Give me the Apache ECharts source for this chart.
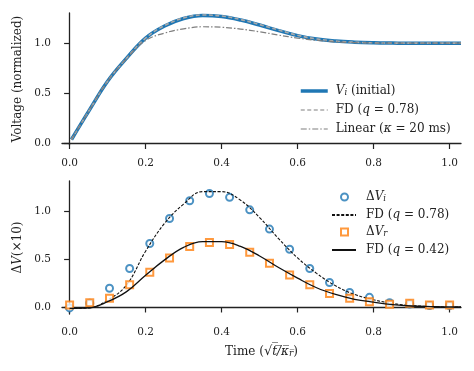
<!DOCTYPE html>
<html><head><meta charset="utf-8">
<script src="https://cdn.jsdelivr.net/npm/echarts@6/dist/echarts.min.js"></script>
<style>html,body{margin:0;padding:0;background:#fff}#c{width:474px;height:371px}</style>
</head><body><div id="c"></div>
<script>
// ---- data ----
const xTicks = [0, 0.2, 0.4, 0.6, 0.8, 1.0];
const yTicks = [0, 0.5, 1.0];

const tTop = [0.005, 0.05, 0.1, 0.15, 0.2, 0.25, 0.3, 0.35, 0.4, 0.45, 0.5, 0.55, 0.6, 0.65, 0.7, 0.75, 0.8, 0.85, 0.9, 0.95, 1.0, 1.03];
const viInitial = [0.04, 0.32, 0.62, 0.85, 1.05, 1.17, 1.245, 1.275, 1.265, 1.23, 1.18, 1.125, 1.075, 1.04, 1.02, 1.009, 1.003, 1.0, 0.998, 0.998, 0.998, 0.998];
const fdTop = [0.04, 0.32, 0.62, 0.85, 1.05, 1.175, 1.25, 1.28, 1.27, 1.235, 1.185, 1.13, 1.078, 1.042, 1.02, 1.009, 1.003, 1.0, 1.0, 1.0, 1.0, 1.0];
const linearTop = [0.04, 0.32, 0.62, 0.845, 1.026, 1.1, 1.142, 1.163, 1.158, 1.14, 1.113, 1.08, 1.05, 1.027, 1.012, 1.005, 1.001, 1.0, 1.0, 1.0, 1.0, 1.0];

const tPts = [0, 0.053, 0.105, 0.158, 0.211, 0.263, 0.316, 0.368, 0.421, 0.474, 0.526, 0.579, 0.632, 0.684, 0.737, 0.789, 0.842, 0.895, 0.947, 1.0];
const dVi = [-0.01, 0.04, 0.195, 0.40, 0.66, 0.92, 1.105, 1.18, 1.14, 1.01, 0.81, 0.60, 0.40, 0.255, 0.15, 0.10, 0.045, 0.03, 0.015, 0.015];
const dVr = [0.02, 0.045, 0.09, 0.23, 0.36, 0.51, 0.63, 0.67, 0.65, 0.57, 0.455, 0.333, 0.23, 0.14, 0.09, 0.055, 0.028, 0.04, 0.02, 0.02];

const tFit = [0, 0.05, 0.1, 0.15, 0.2, 0.25, 0.3, 0.35, 0.4, 0.45, 0.5, 0.55, 0.6, 0.65, 0.7, 0.75, 0.8, 0.85, 0.9, 0.95, 1.0, 1.03];
const fd078 = [-0.015, -0.01, 0.07, 0.23, 0.58, 0.87, 1.07, 1.2, 1.2, 1.11, 0.93, 0.71, 0.51, 0.35, 0.22, 0.13, 0.075, 0.036, 0.015, 0.005, 0.0, 0.0];
const fd042 = [-0.015, -0.01, 0.055, 0.16, 0.33, 0.49, 0.62, 0.68, 0.68, 0.63, 0.53, 0.41, 0.30, 0.20, 0.13, 0.08, 0.05, 0.025, 0.01, 0.004, 0.0, 0.0];

const pair = (xs, ys) => xs.map((x, i) => [x, ys[i]]);

const FONT = 'DejaVu Serif';
const ink = '#222';
const FS = 12;

function xAxis(gi, withName) {
  return {
    type: 'value', gridIndex: gi, min: -0.02, max: 1.03,
    axisLine: {show: true, lineStyle: {color: ink, width: 1.3}},
    axisTick: {show: true, customValues: xTicks, length: 5.5, lineStyle: {color: ink, width: 1.2}},
    axisLabel: {customValues: xTicks, formatter: v => v.toFixed(1), fontFamily: FONT, fontSize: 10.5, color: ink, margin: 13},
    splitLine: {show: false},
    name: withName ? '{n|Time (}{sq|√}{m|t̅/̅κ̅}{s|r̅}{n|)}' : '',
    nameLocation: 'middle', nameGap: 31,
    nameTextStyle: {
      fontFamily: FONT, fontSize: FS, color: ink,
      rich: {
        n: {fontFamily: FONT, fontSize: FS, color: ink},
        sq: {fontFamily: FONT, fontSize: 13, color: ink},
        m: {fontFamily: FONT, fontSize: FS, fontStyle: 'italic', color: ink},
        s: {fontFamily: FONT, fontSize: 9, fontStyle: 'italic', color: ink, verticalAlign: 'bottom', padding: [4, 0, 0, 0]}
      }
    }
  };
}
function yAxis(gi, min, max, name) {
  return {
    type: 'value', gridIndex: gi, min: min, max: max,
    axisLine: {show: true, lineStyle: {color: ink, width: 1.3}},
    axisTick: {show: true, customValues: yTicks, length: 5.5, lineStyle: {color: ink, width: 1.2}},
    axisLabel: {customValues: yTicks, formatter: v => v.toFixed(1), fontFamily: FONT, fontSize: 10.5, color: ink, margin: 11},
    splitLine: {show: false},
    name: name, nameLocation: 'middle', nameGap: 38,
    nameTextStyle: {fontFamily: FONT, fontSize: FS, color: ink,
      rich: {n: {fontFamily: FONT, fontSize: FS, color: ink}, it: {fontFamily: FONT, fontSize: FS, fontStyle: 'italic', color: ink}}}
  };
}

const legendRich = {
  n: {fontFamily: FONT, fontSize: FS, color: ink, lineHeight: 12},
  it: {fontFamily: FONT, fontSize: FS, fontStyle: 'italic', color: ink, lineHeight: 12},
  sub: {fontFamily: FONT, fontSize: 8.5, fontStyle: 'italic', color: ink, verticalAlign: 'bottom', lineHeight: 12}
};
const labels = {
  'Vi': '{it|V}{sub|i}{n| (initial)}',
  'FD top': '{n|FD (}{it|q}{n| = 0.78)}',
  'Linear': '{n|Linear (}{it|κ}{n| = 20 ms)}',
  'dVi': '{n|Δ}{it|V}{sub|i}',
  'FD 0.78': '{n|FD (}{it|q}{n| = 0.78)}',
  'dVr': '{n|Δ}{it|V}{sub|r}',
  'FD 0.42': '{n|FD (}{it|q}{n| = 0.42)}'
};
function legendOne(name, left, top, w, h, padLeft) {
  return {
    data: [{name: name, itemStyle: (name.indexOf('FD') === 0) ? {opacity: 0} : undefined}],
    orient: 'vertical', left: left, top: top, padding: 0,
    itemWidth: w, itemHeight: h,
    formatter: n => labels[n],
    textStyle: {fontFamily: FONT, fontSize: FS, color: ink, lineHeight: 12, padding: [0, 0, 0, padLeft], rich: legendRich}
  };
}

const option = {
  animation: false,
  backgroundColor: '#fff',
  grid: [
    {left: 62, top: 13, width: 399, height: 132},
    {left: 62, top: 181, width: 399, height: 133}
  ],
  xAxis: [xAxis(0, false), xAxis(1, true)],
  yAxis: [
    yAxis(0, -0.015, 1.3, 'Voltage (normalized)'),
    yAxis(1, -0.073, 1.31, '{n|Δ}{it|V}{n|(×10)}')
  ],
  legend: [
    {
      data: [
        {name: 'Vi', itemStyle: {opacity: 0}, lineStyle: {width: 3.5}},
        {name: 'FD top', itemStyle: {opacity: 0}, lineStyle: {width: 1.6}},
        {name: 'Linear', itemStyle: {opacity: 0}, lineStyle: {width: 1.2}}
      ],
      orient: 'vertical', left: 299, top: 85, padding: 0,
      itemWidth: 27, itemHeight: 10, itemGap: 7,
      formatter: n => labels[n],
      textStyle: {fontFamily: FONT, fontSize: FS, color: ink, lineHeight: 12, padding: [0, 0, 0, 3], rich: legendRich}
    },
    legendOne('dVi', 340, 191, 7, 7, 13),
    legendOne('FD 0.78', 331, 209, 24, 10, 5),
    legendOne('dVr', 340, 226, 7, 7, 13),
    legendOne('FD 0.42', 331, 244, 24, 10, 5)
  ],
  series: [
    {name: 'Vi', type: 'line', xAxisIndex: 0, yAxisIndex: 0, data: pair(tTop, viInitial), smooth: 0.4, showSymbol: false, symbol: 'none',
     lineStyle: {color: '#1f77b4', width: 3.5}, itemStyle: {color: '#1f77b4'}, z: 2},
    {name: 'FD top', type: 'line', xAxisIndex: 0, yAxisIndex: 0, data: pair(tTop, fdTop), smooth: 0.4, showSymbol: false, symbol: 'none',
     lineStyle: {color: '#a9a9a9', width: 1.6, type: [4, 2.5]}, itemStyle: {color: '#a9a9a9'}, z: 3},
    {name: 'Linear', type: 'line', xAxisIndex: 0, yAxisIndex: 0, data: pair(tTop, linearTop), smooth: 0.4, showSymbol: false, symbol: 'none',
     lineStyle: {color: '#7f7f7f', width: 1.2, type: [6, 2, 1.5, 2]}, itemStyle: {color: '#7f7f7f'}, z: 3},

    {name: 'dVi', type: 'scatter', xAxisIndex: 1, yAxisIndex: 1, data: pair(tPts, dVi), symbol: 'emptyCircle', symbolSize: 7,
     itemStyle: {color: '#1f77b4', borderColor: '#1f77b4', borderWidth: 1.6}, z: 2},
    {name: 'FD 0.78', type: 'line', xAxisIndex: 1, yAxisIndex: 1, data: pair(tFit, fd078), smooth: 0.4, showSymbol: false, symbol: 'none',
     lineStyle: {color: '#111', width: 1.1, type: [3, 1.6]}, itemStyle: {color: '#111'}, z: 3},
    {name: 'dVr', type: 'scatter', xAxisIndex: 1, yAxisIndex: 1, data: pair(tPts, dVr), symbol: 'emptyRect', symbolSize: 7,
     itemStyle: {color: '#ff7f0e', borderColor: '#ff7f0e', borderWidth: 1.6}, z: 4},
    {name: 'FD 0.42', type: 'line', xAxisIndex: 1, yAxisIndex: 1, data: pair(tFit, fd042), smooth: 0.4, showSymbol: false, symbol: 'none',
     lineStyle: {color: '#111', width: 1.3}, itemStyle: {color: '#111'}, z: 5}
  ]
};
const chart = echarts.init(document.getElementById('c'), null, {renderer: 'canvas'});
chart.setOption(option);
</script></body></html>
